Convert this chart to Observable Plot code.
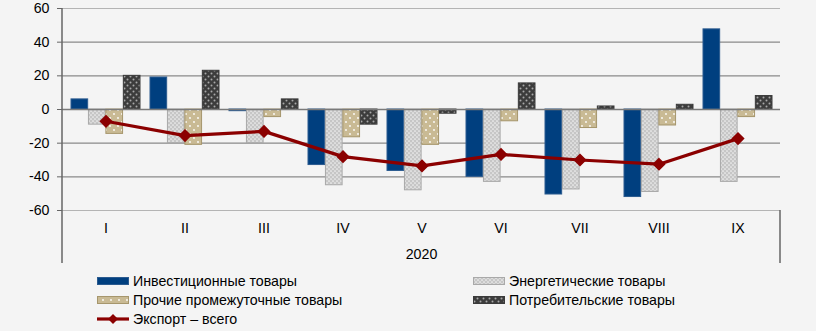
<!DOCTYPE html>
<html><head><meta charset="utf-8">
<script src="https://cdn.jsdelivr.net/npm/d3@7"></script>
<script src="https://cdn.jsdelivr.net/npm/@observablehq/plot@0.6"></script>
<style>
html,body{margin:0;padding:0;background:#f4f4f4;}
#wrap{position:relative;width:816px;height:331px;background:#f4f4f4;font-family:"Liberation Sans",Arial,sans-serif;overflow:hidden;}
#chart svg{display:block;}
.leg{position:absolute;font-size:14.2px;color:#000;display:flex;align-items:center;white-space:nowrap;}
.leg svg{margin-right:4px;display:block;}
</style></head>
<body><div id="wrap"><div id="chart"></div><div id="legend"></div></div>
<script>
const months = ["I","II","III","IV","V","VI","VII","VIII","IX"];
const invest = [6, 19, -1, -33, -36.5, -40, -50.5, -52, 47.6];
const energy = [-9, -20, -20, -45, -48, -43, -47.5, -49, -43];
const other = [-14.5, -21, -4.5, -16.5, -21, -7, -11, -9.5, -4.5];
const consumer = [20, 23, 6, -9, -2.5, 15.5, 1.8, 2.8, 8];
const total = [-7, -15.5, -13, -28, -33.5, -26.7, -30, -32.5, -17.3];
const yTicks = [-60, -40, -20, 0, 20, 40, 60];
const names = ["Инвестиционные товары", "Энергетические товары", "Прочие промежуточные товары", "Потребительские товары", "Экспорт – всего"];
const yearLabel = "2020";

const W = 816, H = 268, mL = 62, mR = 36, mT = 8, mB = 58;
const bw = (W - mL - mR) / months.length;
const pad = 5;
const w = (bw - 2 * pad) / 4;

const series = [
  {values: invest, fill: "#003f7f", stroke: "#2a5a8f"},
  {values: energy, fill: "url(#pEnergy)", stroke: "#a9a9a9"},
  {values: other, fill: "url(#pOther)", stroke: "#a6966c"},
  {values: consumer, fill: "url(#pCons)", stroke: "#3a3a3a"}
];

function defsMark() {
  const g = d3.create("svg:g");
  const defs = g.append("defs");
  let p = defs.append("pattern").attr("id", "pEnergy").attr("patternUnits", "userSpaceOnUse").attr("width", 4).attr("height", 4);
  p.append("rect").attr("width", 4).attr("height", 4).attr("fill", "#c6c6c6");
  p.append("circle").attr("cx", 1).attr("cy", 1).attr("r", 0.85).attr("fill", "#f2f2f2");
  p.append("circle").attr("cx", 3).attr("cy", 3).attr("r", 0.85).attr("fill", "#f2f2f2");
  p = defs.append("pattern").attr("id", "pOther").attr("patternUnits", "userSpaceOnUse").attr("width", 8).attr("height", 8);
  p.append("rect").attr("width", 8).attr("height", 8).attr("fill", "#c9ba94");
  p.append("circle").attr("cx", 2).attr("cy", 2).attr("r", 0.9).attr("fill", "#ffffff");
  p.append("circle").attr("cx", 6).attr("cy", 6).attr("r", 0.9).attr("fill", "#ffffff");
  p = defs.append("pattern").attr("id", "pCons").attr("patternUnits", "userSpaceOnUse").attr("width", 6).attr("height", 6);
  p.append("rect").attr("width", 6).attr("height", 6).attr("fill", "#3c3c3c");
  p.append("circle").attr("cx", 1.5).attr("cy", 1.5).attr("r", 1).attr("fill", "#a8a8a8");
  p.append("circle").attr("cx", 4.5).attr("cy", 4.5).attr("r", 1).attr("fill", "#a8a8a8");
  return g.node();
}

function frameLines(index, scales, values, dims) {
  const g = d3.create("svg:g");
  const x0 = dims.marginLeft, x1 = dims.width - dims.marginRight;
  const yb = dims.height - dims.marginBottom;
  g.append("line").attr("x1", x0).attr("x2", x0).attr("y1", dims.marginTop).attr("y2", dims.height - 5).attr("stroke", "#666").attr("stroke-width", 1.5);
  g.append("line").attr("x1", x1).attr("x2", x1).attr("y1", yb).attr("y2", dims.height - 5).attr("stroke", "#666").attr("stroke-width", 1.5);
  return g.node();
}

const marks = [
  defsMark,
  Plot.ruleY(yTicks, {stroke: d => (d === 60 || d === -60) ? "#b4b4b4" : "#8a8a8a", strokeWidth: 1.2}),
];
series.forEach((s, k) => {
  marks.push(Plot.barY(months, {
    x: d => d, y: (d, i) => s.values[i],
    fill: s.fill, stroke: s.stroke, strokeWidth: 1,
    insetLeft: pad + k * w, insetRight: bw - pad - (k + 1) * w
  }));
});
marks.push(Plot.ruleY([0], {stroke: "#7a7a7a", strokeWidth: 1.5}));
marks.push(Plot.lineY(months, {x: d => d, y: (d, i) => total[i], stroke: "#8b0000", strokeWidth: 3.2}));
marks.push(Plot.dot(months, {x: d => d, y: (d, i) => total[i], symbol: "diamond2", r: 5, fill: "#8b0000", stroke: "#8b0000"}));
marks.push(frameLines);
marks.push(Plot.axisY({ticks: yTicks, tickSize: 5, tickPadding: 8, tickFormat: d => String(d), stroke: "#666", label: null, fontSize: 14.2}));
marks.push(Plot.axisX({tickSize: 0, tickPadding: 12, fontSize: 14.2, label: yearLabel, labelAnchor: "center", labelArrow: "none", labelOffset: 48}));

const chart = Plot.plot({
  width: W, height: H,
  marginLeft: mL, marginRight: mR, marginTop: mT, marginBottom: mB,
  style: {background: "#f4f4f4", fontFamily: "'Liberation Sans', Arial, sans-serif", fontSize: "14.2px", color: "#000"},
  x: {type: "band", domain: months, padding: 0},
  y: {domain: [-60, 60], range: [H - mB, mT]},
  marks
});
document.getElementById("chart").appendChild(chart);

const legend = document.getElementById("legend");
const items = [
  {name: names[0], left: 97, top: 272, kind: "rect", fill: "#003f7f", stroke: "#2a5a8f"},
  {name: names[1], left: 473, top: 272, kind: "rect", fill: "url(#pEnergy)", stroke: "#a9a9a9"},
  {name: names[2], left: 97, top: 291, kind: "rect", fill: "url(#pOther)", stroke: "#a6966c"},
  {name: names[3], left: 473, top: 291, kind: "rect", fill: "url(#pCons)", stroke: "#3a3a3a"},
  {name: names[4], left: 97, top: 310, kind: "line"}
];
items.forEach(it => {
  const div = document.createElement("div");
  div.className = "leg";
  div.style.left = it.left + "px";
  div.style.top = it.top + "px";
  div.style.height = "18px";
  const sw = d3.create("svg").attr("width", 32).attr("height", 12);
  if (it.kind === "rect") {
    sw.append("rect").attr("x", 0.5).attr("y", 2.5).attr("width", 31).attr("height", 7).attr("fill", it.fill).attr("stroke", it.stroke);
  } else {
    sw.append("line").attr("x1", 0).attr("x2", 32).attr("y1", 6).attr("y2", 6).attr("stroke", "#8b0000").attr("stroke-width", 3.2);
    sw.append("path").attr("d", "M16,1 L21,6 L16,11 L11,6Z").attr("fill", "#8b0000");
  }
  div.appendChild(sw.node());
  const span = document.createElement("span");
  span.textContent = it.name;
  div.appendChild(span);
  legend.appendChild(div);
});
</script></body></html>
